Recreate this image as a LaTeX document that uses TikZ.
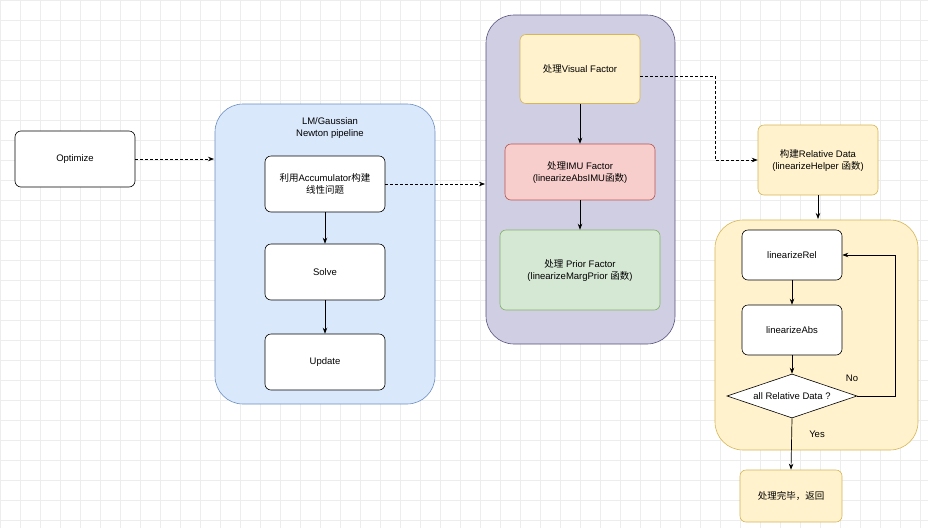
\documentclass[tikz,border=0pt]{standalone}
\usepackage{fontspec}
\setmainfont{Liberation Sans}
\newfontfamily\cjk{Noto Sans CJK SC}
\newcommand{\zh}[1]{{\cjk #1}}
\usetikzlibrary{positioning, arrows.meta, calc, shapes.geometric}

\begin{document}
\begin{tikzpicture}[
    x=1pt, y=-1pt,
    font=\fontsize{9.5}{12}\selectfont,
    box/.style={
        rectangle,
        draw=black,
        fill=white,
        minimum width=120pt,
        minimum height=56pt,
        rounded corners=6pt,
        align=center,
        line width=0.6pt
    },
    group/.style={
        rectangle,
        rounded corners=28pt,
        line width=0.6pt
    },
    arrow/.style={
        -{Stealth[length=6pt]},
        line width=0.7pt
    },
    dasharrow/.style={
        -{Stealth[length=6pt]},
        line width=0.7pt,
        densely dashed
    },
    lbl/.style={
        align=center
    }
]
\useasboundingbox (0,0) rectangle (928,528);
\fill[white] (0,0) rectangle (928,528);
\draw[black!7, step=20pt] (0,0) grid (928,528);

% Groups
\draw[group, fill={rgb,255:red,218;green,232;blue,252}, draw={rgb,255:red,108;green,142;blue,191}]
    (215,104) rectangle (435,404);
\node[lbl] (lmtitle) at (330,128) {LM/Gaussian\\Newton pipeline};
\draw[group, fill={rgb,255:red,208;green,206;blue,226}, draw={rgb,255:red,86;green,81;blue,126}]
    (486,15) rectangle (675,344);
\draw[group, fill={rgb,255:red,255;green,242;blue,204}, draw={rgb,255:red,214;green,182;blue,86}]
    (715,220) rectangle (918,450);

% Nodes
\node[box] (opt) at (75,159) {Optimize};
\coordinate (lmin) at (214,159);
\node[box] (acc) at (325,184) {\zh{利用}Accumulator\zh{构建}\\\zh{线性问题}};
\node[box] (solve) at (325,272) {Solve};
\node[box] (update) at (325,362) {Update};
\coordinate (facin) at (485,184);

\tikzset{yel/.style={fill={rgb,255:red,255;green,242;blue,204}, draw={rgb,255:red,214;green,182;blue,86}}}
\node[box, yel, minimum height=69pt] (visual) at (580,69) {\zh{处理}Visual Factor};
\node[box, fill={rgb,255:red,248;green,206;blue,204}, draw={rgb,255:red,184;green,84;blue,80}, minimum width=150pt] (imu) at (580,172) {\zh{处理}IMU Factor\\(linearizeAbsIMU\zh{函数})};
\node[box, fill={rgb,255:red,213;green,232;blue,212}, draw={rgb,255:red,130;green,179;blue,102}, minimum width=160pt, minimum height=80pt] (prior) at (580,270) {\zh{处理} Prior Factor\\(linearizeMargPrior \zh{函数})};

\node[box, yel, minimum height=70pt] (reldata) at (818,160) {\zh{构建}Relative Data\\(linearizeHelper \zh{函数})};
\coordinate (relin) at (818,219);
\node[box, minimum width=100pt, minimum height=50pt] (linrel) at (792,255) {linearizeRel};
\node[box, minimum width=100pt, minimum height=50pt] (linabs) at (792,330) {linearizeAbs};
\node[diamond, draw=black, fill=white, line width=0.6pt, aspect=3, minimum width=130pt, minimum height=44pt, inner sep=0pt] (check) at (792,396) {all Relative Data ?};
\node[box, yel, minimum width=102pt, minimum height=52pt] (done) at (791,496) {\zh{处理完毕，返回}};

% Connectors
\draw[dasharrow] (opt) -- (lmin);
\draw[arrow] (acc) -- (solve);
\draw[arrow] (solve) -- (update);
\draw[dasharrow] (acc.east) -- (facin);
\draw[arrow] (visual) -- (imu);
\draw[arrow] (imu) -- (prior);
\draw[dasharrow] ([yshift=-7pt]visual.east) -| (715,160) -- (reldata.west);
\draw[arrow] (reldata) -- (relin);
\draw[arrow] (linrel) -- (linabs);
\draw[arrow] (linabs) -- (check);
\draw[arrow] (check.east) -- (895,396) |- (linrel.east);
\node[lbl] (no) at (852,378) {No};
\draw[arrow] (check.south) -- (done.north);
\node[lbl] (yes) at (817,434) {Yes};
\end{tikzpicture}
\end{document}
